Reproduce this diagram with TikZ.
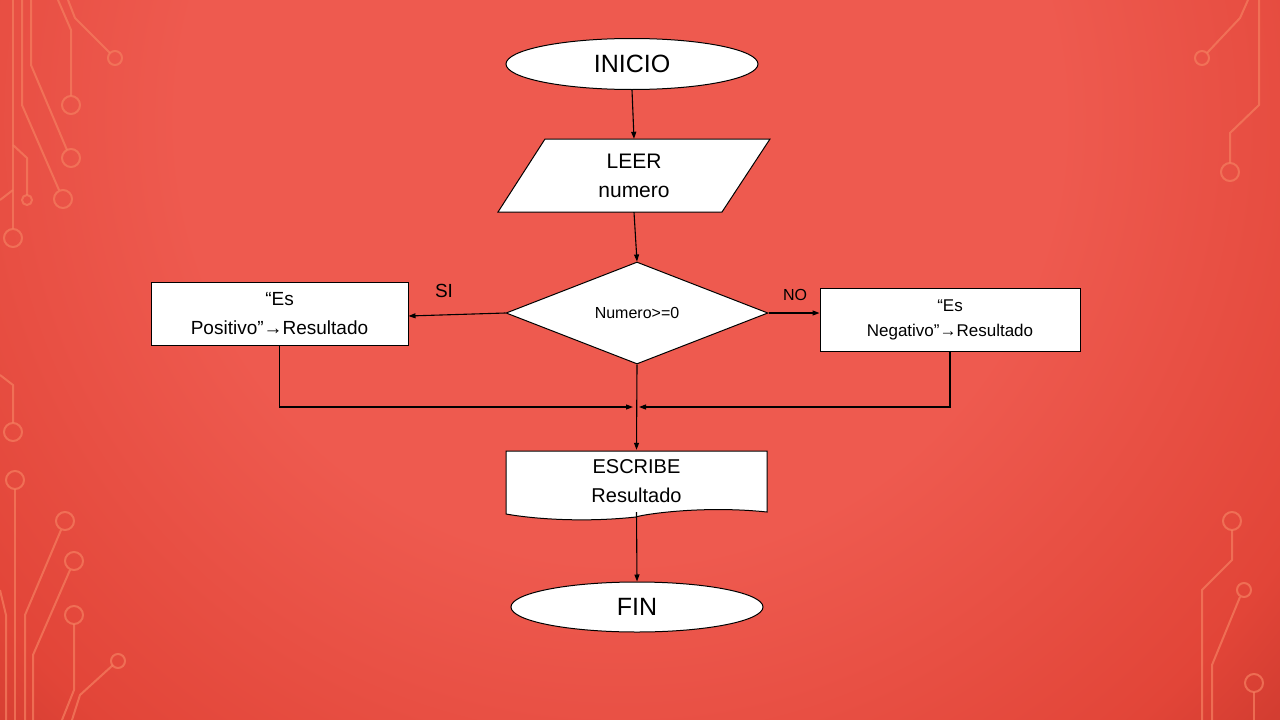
\documentclass[tikz,border=0pt]{standalone}
\usepackage{fontspec}
\setmainfont{Liberation Sans}
\usetikzlibrary{arrows.meta,shapes.geometric}
\definecolor{c0}{HTML}{EE5A4F}
\definecolor{c1}{HTML}{E24538}
\definecolor{c2}{HTML}{A3231A}
\definecolor{c3}{HTML}{690806}
\definecolor{circ}{HTML}{F47C5E}
\pgfdeclareradialshading{bg}{\pgfpoint{0bp}{0bp}}{color(0bp)=(c0);color(10bp)=(c0);color(18bp)=(c1);color(27bp)=(c2);color(38bp)=(c3);color(50bp)=(c3)}
\begin{document}
\begin{tikzpicture}[x=1pt,y=-1pt,
  box/.style={draw=black,fill=white,line width=1pt,align=center},
  ell/.style={box,ellipse,minimum width=252pt,minimum height=51pt,inner sep=0pt,font=\fontsize{25}{28}\selectfont},
  arr/.style={line width=1.1pt,-{Triangle[length=7pt,width=5pt]}},
  dec/.style={circ,line width=2pt,opacity=0.75}]
\useasboundingbox (0,0) rectangle (1280,720);
\begin{scope}
\clip (0,0) rectangle (1280,720);
\shade[shading=bg] (620,120) circle[radius=1100];
% decorations top-left
\draw[dec] (13,0) -- (13,229);
\draw[dec] (13,238) circle[radius=9];
\draw[dec] (13,145) -- (27,158) -- (27,195);
\draw[dec] (27,200) circle[radius=5];
\draw[dec] (0,200) -- (13,190);
\draw[dec] (22,0) -- (22,105) -- (59,190);
\draw[dec] (63,199) circle[radius=9];
\draw[dec] (31,0) -- (31,65) -- (67,150);
\draw[dec] (71,158) circle[radius=9];
\draw[dec] (58,0) -- (71,30) -- (71,96);
\draw[dec] (71,105) circle[radius=9];
\draw[dec] (68,0) -- (75,18) -- (110,53);
\draw[dec] (115,58) circle[radius=7];
% bottom-left
\begin{scope}[opacity=0.5]
\draw[dec] (0,375) -- (13,385) -- (13,423);
\draw[dec] (13,432) circle[radius=9];
\draw[dec] (15,480) circle[radius=9];
\draw[dec] (15,489) -- (15,720);
\draw[dec] (65,521) circle[radius=9];
\draw[dec] (61,530) -- (25,615) -- (25,720);
\draw[dec] (74,561) circle[radius=9];
\draw[dec] (70,570) -- (33,655) -- (33,720);
\draw[dec] (74,615) circle[radius=9];
\draw[dec] (74,624) -- (74,690) -- (62,720);
\draw[dec] (118,661) circle[radius=7];
\draw[dec] (113,665) -- (80,695) -- (72,720);
\draw[dec] (0,590) -- (6,615) -- (6,720);
% bottom-right
\draw[dec] (1232,521) circle[radius=9];
\draw[dec] (1232,530) -- (1232,560) -- (1202,590) -- (1202,720);
\draw[dec] (1244,590) circle[radius=7];
\draw[dec] (1240,597) -- (1212,665) -- (1212,720);
\draw[dec] (1254,683) circle[radius=9];
\draw[dec] (1254,692) -- (1254,720);
\end{scope}
% top-right
\draw[dec] (1248,0) -- (1240,18) -- (1207,53);
\draw[dec] (1202,58) circle[radius=7];
\draw[dec] (1259,0) -- (1259,105) -- (1230,133) -- (1230,163);
\draw[dec] (1230,172) circle[radius=9];
\end{scope}

% flowchart
\node[ell] (ini) at (632,64) {INICIO};
\draw[box] (545,139) -- (770,139) -- (722,212) -- (498,212) -- cycle;
\node[align=center,minimum width=224pt,minimum height=73pt,inner sep=0pt,font=\fontsize{21}{29}\selectfont] (leer) at (634,175.5) {LEER\\numero};
\node[box,diamond,aspect=2.57,minimum width=262pt,minimum height=102pt,inner sep=0pt,font=\fontsize{16}{19}\selectfont] (dec) at (637,313) {Numero>=0};
\node[box,minimum width=257pt,minimum height=63pt,inner sep=0pt,font=\fontsize{19}{29}\selectfont] (pos) at (279.5,313.5) {“Es\\Positivo”\char"2192 Resultado};
\node[box,minimum width=260pt,minimum height=63pt,inner sep=0pt,font=\fontsize{17}{25}\selectfont] (neg) at (950,319.5) {“Es\\Negativo”\char"2192 Resultado};
\draw[box] (506,451) -- (767,451) -- (767,512) .. controls (700,505) and (640,515) .. (636,517) .. controls (590,522) and (540,520) .. (506,514) -- cycle;
\node[align=center,minimum width=261pt,minimum height=62pt,inner sep=0pt,font=\fontsize{20}{29}\selectfont] (esc) at (636.5,481) {ESCRIBE\\Resultado};
\node[ell,minimum height=50pt] (fin) at (637,607) {FIN};
\coordinate (m) at (636,407);

\draw[arr] (ini.south) -- (leer.north);
\draw[arr] (leer.south) -- (dec.north);
\draw[arr] (dec.west) -- (pos.east |- 0,316);
\draw[arr] (dec.east) -- (neg.west |- dec.east);
\draw[arr] (dec.south) -- (esc.north);
\draw[arr] (pos.south) |- ([xshift=-3pt]m);
\draw[arr] (neg.south) |- ([xshift=3pt]m);
\draw[arr] (esc.south) -- (fin.north);
\node[font=\fontsize{19}{22}\selectfont] (si) at (444,291) {SI};
\node[font=\fontsize{16}{19}\selectfont] (no) at (795,295) {NO};
\end{tikzpicture}
\end{document}
